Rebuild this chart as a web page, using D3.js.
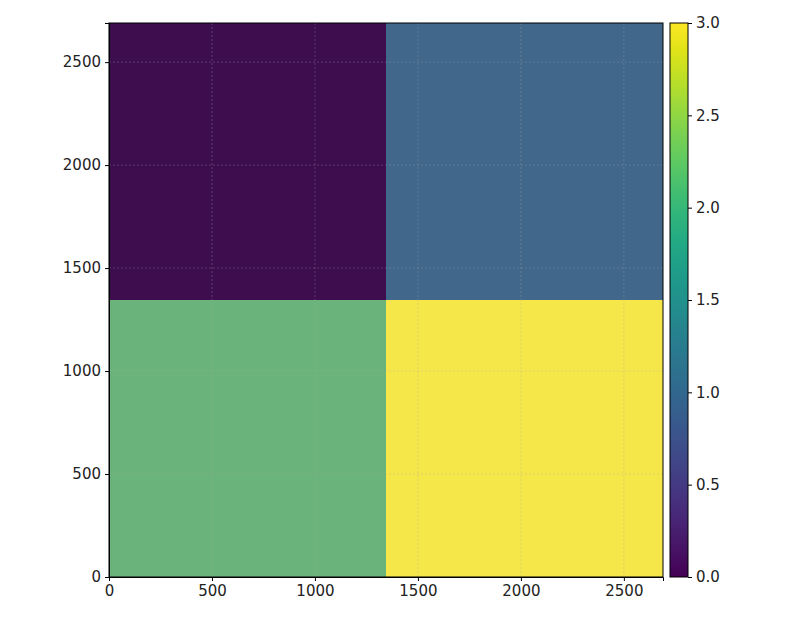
<!DOCTYPE html><html><head><script src="https://cdn.jsdelivr.net/npm/d3@7"></script>
<style>body{margin:0;background:#fff}text{font-family:"DejaVu Sans";font-size:15px;fill:#222}</style></head><body><svg width="792" height="628"></svg><script>
const extent=2690;
const cells=[{x0:0,x1:1345,y0:1345,y1:2690,v:0},{x0:1345,x1:2690,y0:1345,y1:2690,v:1},{x0:0,x1:1345,y0:0,y1:1345,v:2},{x0:1345,x1:2690,y0:0,y1:1345,v:3}];
const ticks=[0,500,1000,1500,2000,2500];
const cbTicks=[0,0.5,1,1.5,2,2.5,3];
const cellColors=["#3e0d4e","#41678a","#6ab47c","#f5e64a"];
const svg=d3.select("svg");
const L=109,R=663,T=23,B=577;
const x=d3.scaleLinear().domain([0,extent]).range([L,R]);
const y=d3.scaleLinear().domain([0,extent]).range([B,T]);
const c=d3.scaleOrdinal().domain([0,1,2,3]).range(cellColors);
svg.selectAll(".c").data(cells).join("rect").attr("x",d=>x(d.x0)).attr("y",d=>y(d.y1)).attr("width",d=>x(d.x1)-x(d.x0)).attr("height",d=>y(d.y0)-y(d.y1)).attr("fill",d=>c(d.v));
const g=svg.append("g");
ticks.forEach(t=>{g.append("line").attr("x1",x(t)).attr("x2",x(t)).attr("y1",T).attr("y2",B);g.append("line").attr("y1",y(t)).attr("y2",y(t)).attr("x1",L).attr("x2",R);});
g.selectAll("line").attr("stroke","#aaa").attr("stroke-opacity",0.3).attr("stroke-dasharray","2,2");
svg.append("g").attr("transform",`translate(0,${B})`).call(d3.axisBottom(x).tickValues(ticks).tickFormat(d3.format("d")).tickSizeOuter(0).tickSize(4).tickPadding(4));
svg.append("g").attr("transform",`translate(${L},0)`).call(d3.axisLeft(y).tickValues(ticks).tickFormat(d3.format("d")).tickSizeOuter(0).tickSize(4).tickPadding(4));
svg.append("rect").attr("x",L).attr("y",T).attr("width",R-L).attr("height",B-T).attr("fill","none").attr("stroke","#000");
const cx0=670,cx1=688;
const cy=d3.scaleLinear().domain([0,3]).range([B,T]);
const defs=svg.append("defs");const gr=defs.append("linearGradient").attr("id","g").attr("x1",0).attr("x2",0).attr("y1",1).attr("y2",0);
d3.range(0,1.001,0.05).forEach(s=>gr.append("stop").attr("offset",s).attr("stop-color",d3.interpolateViridis(s)));
svg.append("rect").attr("x",cx0).attr("y",T).attr("width",cx1-cx0).attr("height",B-T).attr("fill","url(#g)").attr("stroke","#000");
svg.append("g").attr("transform",`translate(${cx1},0)`).call(d3.axisRight(cy).tickValues(cbTicks).tickFormat(d3.format(".1f")).tickSizeOuter(0).tickSize(4).tickPadding(4)).select(".domain").remove();
svg.selectAll(".tick text").style("font-size","15px").attr("fill","#222");
</script></body></html>
